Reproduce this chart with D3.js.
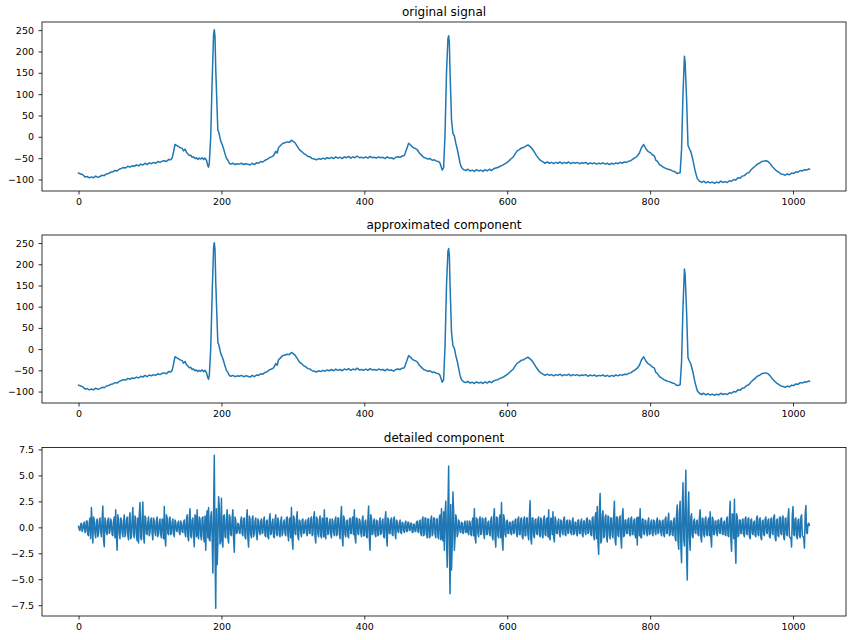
<!DOCTYPE html>
<html><head><meta charset="utf-8">
<script src="https://cdn.jsdelivr.net/npm/d3@7"></script>
<style>
body{margin:0;background:#fff}
svg{display:block}
text{font-family:"DejaVu Sans",sans-serif;fill:#000}
</style>
</head><body>
<svg id="c" width="856" height="640"></svg>
<script>
// ECG samples [index, value] (original signal)
const signalSamples = [
[0,-85],[3,-87],[6,-89],[9,-94],[12,-93],[15,-96],[18,-94],[21,-96],[24,-92],[27,-95],[30,-93],[33,-90],[36,-91],[39,-87],[42,-86],[45,-83],[48,-82],[51,-79],[54,-80],[57,-76],[60,-74],[63,-72],[66,-73],[69,-69],[72,-71],[75,-68],[78,-69],[81,-66],[84,-68],[87,-64],[90,-66],[93,-62],[96,-65],[99,-61],[102,-63],[105,-60],[108,-62],[111,-58],[114,-60],[117,-57],[120,-56],[123,-58],[126,-53],[129,-54],[131,-50],
[133,-35],[135,-18],[137,-20],[139,-22],[141,-24],[143,-26],[145,-27],[147,-33],[149,-29],[151,-36],[153,-40],[155,-44],[157,-43],[159,-48],[161,-47],[163,-51],[165,-49],[167,-53],[169,-50],[171,-52],[173,-49],[175,-53],[177,-50],[179,-55],[181,-68],[182,-71],[183,-62],
[185,0],[187,130],[189,240],[190,251],[191,235],[192,160],[194,60],[195,15],[196,12],[197,5],[199,-10],[201,-18],[203,-28],[205,-40],[207,-50],[209,-55],[211,-62],[213,-64],
[216,-62],[219,-65],[222,-63],[225,-64],[228,-62],[231,-65],[234,-63],[237,-64],[240,-66],[243,-62],[246,-65],[249,-61],[252,-62],[255,-58],[258,-59],[261,-55],[264,-53],[267,-49],[270,-47],[273,-44],[276,-34],[278,-38],[280,-25],[283,-20],[286,-15],[289,-14],[292,-12],[295,-13],[298,-8],[300,-10],[303,-14],[306,-22],[309,-30],[312,-34],[315,-39],[318,-42],[321,-46],[324,-47],[327,-51],[330,-52],[333,-54],[336,-51],[339,-53],[342,-50],[345,-52],[348,-49],[351,-51],[354,-48],[357,-51],[360,-47],[363,-50],[366,-48],[369,-51],[372,-47],[375,-49],[378,-46],[381,-50],[384,-47],[387,-49],[390,-45],[393,-49],[396,-48],[399,-50],[402,-47],[405,-50],[408,-46],[411,-49],[414,-48],[417,-50],[420,-47],[423,-49],[426,-48],[429,-51],[432,-47],[435,-50],[438,-49],[441,-52],[444,-48],[447,-47],[450,-48],[453,-45],[456,-44],
[459,-30],[462,-15],[465,-20],[468,-25],[471,-27],[474,-30],[477,-38],[480,-43],[483,-48],[486,-50],[489,-52],[492,-51],[495,-55],[498,-54],[501,-57],[504,-58],[506,-62],[509,-78],[511,-72],
[513,10],[515,150],[517,230],[518,237],[519,220],[520,150],[522,40],[524,8],[526,2],[528,-15],[530,-28],[532,-45],[534,-62],[536,-72],
[539,-77],[542,-79],[545,-76],[548,-80],[551,-78],[554,-81],[557,-77],[560,-80],[563,-78],[566,-81],[569,-77],[572,-80],[575,-76],[578,-79],[581,-75],[584,-73],[587,-72],[590,-69],[593,-67],[596,-64],[599,-61],[602,-57],[605,-52],[608,-48],[611,-40],[614,-33],[617,-30],[620,-26],[623,-25],[626,-22],[629,-19],[632,-23],[635,-28],[638,-36],[641,-44],[644,-51],[647,-56],[650,-59],[653,-62],[656,-59],[659,-62],[662,-60],[665,-63],[668,-60],[671,-62],[674,-59],[677,-63],[680,-60],[683,-62],[686,-59],[689,-63],[692,-60],[695,-62],[698,-60],[701,-63],[704,-61],[707,-62],[710,-60],[713,-64],[716,-61],[719,-63],[722,-61],[725,-64],[728,-62],[731,-63],[734,-61],[737,-64],[740,-62],[743,-65],[746,-62],[749,-64],[752,-61],[755,-63],[758,-60],[761,-62],[764,-59],[767,-60],[770,-57],[773,-56],[776,-52],[779,-49],[782,-45],[785,-38],[788,-25],[791,-18],[794,-28],[797,-34],[800,-37],[803,-42],[806,-45],[808,-55],[810,-57],[813,-65],[816,-68],[819,-72],[822,-74],[825,-76],[828,-77],[831,-80],[834,-81],[836,-84],[838,-86],[840,-85],[842,-84],
[844,-30],[846,100],[848,189],[849,175],[851,90],[853,-20],[855,-28],[857,-35],[860,-55],[863,-80],[866,-98],
[869,-104],[872,-107],[875,-104],[878,-108],[881,-105],[884,-108],[887,-106],[890,-109],[893,-106],[896,-108],[899,-104],[902,-107],[905,-105],[908,-107],[911,-103],[914,-104],[917,-100],[920,-101],[923,-96],[926,-97],[929,-92],[932,-91],[935,-86],[938,-84],[941,-78],[944,-73],[947,-69],[950,-64],[953,-62],[956,-58],[959,-57],[962,-56],[965,-58],[968,-63],[971,-70],[974,-75],[977,-80],[980,-83],[983,-87],[986,-88],[989,-90],[992,-87],[995,-89],[998,-85],[1001,-86],[1004,-82],[1007,-83],[1010,-79],[1013,-80],[1016,-77],[1019,-78],[1022,-75],[1023,-76]
];
// approximated component: visually identical to the original at this scale
const approxSamples = signalSamples;

// detailed component at even sample indices (0, 2, 4, ... 1022)
const detailEven = [
0.1,-0.3,0.4,-0.2,0.5,-0.4,0.6,-0.8,0.9,1.9,-1.5,0.7,-1.0,0.8,-0.6,0.9,
-0.9,2.05,-1.86,0.6,-0.7,0.9,-0.4,0.5,-0.8,1.0,1.7,-2.2,0.8,-1.1,0.7,-0.9,
1.2,-0.6,1.0,-1.2,1.4,-0.9,1.9,-1.0,0.8,-1.3,-1.5,2.4,-1.2,2.45,-1.5,0.9,
-0.7,1.0,-0.5,0.9,-1.2,0.6,-0.8,1.0,-0.6,0.8,-1.0,0.7,2.0,-1.8,0.9,-0.7,
1.0,-0.6,0.8,-0.9,0.5,-0.4,0.6,-0.7,0.4,-0.5,0.7,-0.9,1.2,-1.3,1.8,-1.0,
0.9,-1.86,1.0,1.7,-1.1,0.8,-1.2,1.0,-1.4,-2.2,1.6,1.9,-1.3,1.5,-4.4,6.95,
-7.8,-3.6,2.95,-1.6,2.8,-1.9,1.2,-1.0,1.7,-1.5,1.0,-0.8,1.7,-2.4,0.7,-0.5,
0.3,-0.6,1.0,-0.8,0.9,-1.1,1.7,-1.9,0.8,-1.0,1.1,-0.6,0.9,-1.2,0.6,-0.7,
0.8,-0.5,1.0,-0.9,0.7,-1.1,1.3,-0.6,0.8,-1.0,1.2,-0.8,0.6,-0.9,1.0,-0.5,
0.7,-0.8,1.0,-1.3,0.9,1.9,-2.1,0.8,-0.7,1.5,-1.2,0.6,-0.9,0.8,-0.5,0.7,
-0.8,0.9,-0.6,1.0,-0.7,1.5,-1.5,0.8,-0.9,1.1,-1.0,0.7,1.7,-1.1,0.9,-0.6,
0.8,-1.0,0.6,-0.8,1.0,-0.7,0.9,-1.1,2.0,-1.8,0.8,-0.9,0.7,-1.0,0.9,-0.6,
1.0,1.7,-1.5,0.8,-0.7,0.6,-0.9,1.1,-0.8,0.7,-1.0,2.05,-2.2,0.9,-0.6,0.8,
-0.9,0.6,-0.7,0.9,-0.5,0.8,-1.0,1.5,-1.8,0.7,-0.6,0.9,-0.8,1.0,-1.1,0.6,
-0.5,0.7,-0.6,0.4,-0.5,0.6,-0.4,0.5,-0.3,0.4,-0.5,0.3,-0.4,0.6,-0.5,0.7,
-0.8,1.0,-0.7,0.9,-1.0,0.8,-0.9,1.1,-0.6,0.9,-1.0,0.8,-1.1,1.2,1.8,-1.3,
-2.2,2.5,-3.85,5.9,-6.4,-4.1,3.4,-2.2,1.2,-0.9,0.7,-0.4,0.5,-0.6,0.4,-0.5,
0.6,-0.7,0.5,-0.8,0.9,1.8,-1.5,0.7,-0.9,1.0,-0.6,0.8,-1.1,0.9,-0.7,0.6,
-0.8,1.0,-1.2,1.8,-1.9,0.9,-1.0,1.2,2.4,-2.2,0.8,-0.9,0.7,-0.6,0.5,-0.7,
0.6,-0.5,0.8,-0.9,1.0,-0.7,0.9,-1.1,1.0,-0.8,0.9,-1.2,2.55,-1.6,0.9,-1.0,
0.8,-0.7,1.0,-0.9,0.7,-1.0,1.1,-0.8,0.9,1.7,-1.2,0.8,1.5,-1.4,0.7,-0.6,
0.8,-0.9,0.6,-0.7,1.0,-0.8,0.7,-0.5,0.6,-0.7,0.9,-0.6,0.5,-0.8,0.7,-0.6,
0.8,-0.9,0.6,-0.7,0.9,-0.5,0.6,-0.8,1.0,-1.2,1.4,2.0,-2.6,3.27,-1.3,1.6,
-0.9,1.2,-1.4,1.0,-1.1,0.9,-1.0,2.5,-1.7,1.0,-0.9,1.1,-2.0,1.8,-0.8,0.7,
-0.6,0.9,-0.8,1.0,-0.7,0.8,-1.0,-1.7,0.9,1.8,-1.0,0.8,-0.7,0.6,-0.8,0.9,
-0.6,0.7,-0.8,0.6,-0.7,0.9,-0.5,0.6,-0.8,0.7,-0.9,1.0,-0.6,1.35,-0.7,0.6,
-0.8,0.9,-1.3,2.15,-2.1,2.5,-3.4,4.3,-1.8,5.5,-5.06,3.4,-2.2,1.3,-1.0,0.8,
-0.6,0.7,-0.8,1.7,-1.4,0.8,-0.9,1.0,-0.8,0.9,1.5,-1.9,0.8,-0.7,0.6,-0.8,
0.7,-0.6,0.9,-0.7,0.6,-0.8,1.0,-0.9,2.5,-2.3,1.2,2.7,-3.46,1.0,-0.8,0.7,
-0.6,0.8,-0.9,1.0,-0.7,0.9,-1.1,0.8,-0.7,0.6,-0.9,1.1,-0.8,0.9,-1.2,0.7,
-0.8,1.0,-0.6,0.8,-1.0,0.9,-0.7,1.2,-1.3,0.8,-0.9,1.0,-0.7,1.1,-1.2,0.9,
-0.8,1.8,-1.0,-1.9,2.0,-0.8,0.9,-1.1,0.8,-1.0,1.2,-0.9,-2.0,2.1,-0.6,0.4
];
// detailed component at odd sample indices (1, 3, 5, ... 1023)
const detailOdd = [
-0.2,0.3,-0.4,0.3,-0.5,0.6,-0.7,0.5,-1.1,0.4,1.0,-0.6,0.5,-0.9,0.6,-0.4,
0.8,-1.2,0.9,-0.5,0.7,-0.6,0.8,-0.7,0.6,-1.0,-0.8,1.2,-0.6,0.9,-0.5,0.6,
-0.9,0.7,-0.8,0.9,-1.1,0.8,-0.6,1.1,-0.7,0.9,1.2,-1.0,0.8,-0.9,1.1,-0.6,
0.5,-0.8,0.7,-0.6,0.9,-0.5,0.7,-0.9,0.5,-0.7,0.8,-1.1,-1.0,1.2,-0.6,0.8,
-0.7,0.5,-0.6,0.7,-0.3,0.4,-0.5,0.6,-0.4,0.5,-0.6,0.8,-0.9,1.0,-0.8,0.7,
-0.8,1.2,-0.9,-0.7,1.0,-0.8,0.9,-0.9,1.1,0.8,-1.0,-1.2,1.0,-1.0,1.5,-2.0,
1.8,-1.5,2.0,-1.2,-1.4,1.1,-0.9,0.8,-1.0,1.2,-0.7,0.9,-1.1,1.0,-0.6,0.4,
-0.5,0.7,-0.6,0.8,-0.9,0.7,-1.0,1.1,-0.7,0.8,-0.9,0.6,-0.7,0.8,-0.5,0.6,
-0.6,0.7,-0.8,0.6,-0.9,0.8,-0.7,0.5,-0.9,0.7,-0.6,0.9,-0.7,0.6,-0.8,0.5,
-0.6,0.9,-0.7,0.8,-1.0,-1.2,1.1,-0.6,0.8,-0.9,0.7,-0.5,0.7,-0.6,0.5,-0.6,
0.7,-0.6,0.8,-0.8,0.9,-0.9,1.0,-0.6,0.7,-0.8,0.9,-0.9,-0.8,0.9,-0.7,0.5,
-0.7,0.8,-0.5,0.7,-0.8,0.9,-0.6,0.8,-1.0,1.1,-0.7,0.6,-0.8,0.7,-0.6,0.8,
-0.7,-1.0,0.9,-0.6,0.8,-0.5,0.7,-0.8,0.6,-0.9,0.8,-1.1,1.2,-0.7,0.6,-0.7,
0.7,-0.8,0.6,-0.7,0.6,-0.9,0.8,-1.0,0.9,-0.6,0.7,-0.7,0.8,-0.6,0.7,-0.4,
0.4,-0.5,0.5,-0.3,0.4,-0.4,0.5,-0.3,0.4,-0.5,0.3,-0.4,0.5,-0.4,0.6,-0.6,
0.7,-0.8,0.9,-0.7,0.8,-1.0,0.7,-0.8,0.9,-0.7,0.8,-0.9,1.0,-1.2,-1.0,1.5,
1.3,-1.2,1.6,-2.0,2.2,-1.8,1.5,-1.0,0.8,-0.6,0.5,-0.5,0.4,-0.5,0.6,-0.4,
-0.5,0.6,-0.7,0.6,-0.8,-1.0,0.9,-0.6,0.8,-0.7,0.9,-0.6,0.8,-0.7,0.5,-0.6,
0.7,-0.9,1.0,-1.1,1.0,-0.8,0.9,-1.0,-1.3,1.2,-0.7,0.6,-0.6,0.5,-0.6,0.5,
-0.6,0.7,-0.6,0.8,-0.7,0.8,-0.9,0.7,-0.8,0.9,-0.7,1.0,-1.1,0.9,-0.8,0.7,
-0.6,0.8,-0.7,0.9,-0.8,0.9,-0.7,0.8,-0.9,-1.0,0.9,-0.7,-0.9,1.0,-0.6,0.5,
-0.6,0.7,-0.5,0.8,-0.7,0.6,-0.6,0.7,-0.5,0.6,-0.7,0.5,-0.6,0.7,-0.6,0.5,
-0.7,0.6,-0.5,0.8,-0.6,0.7,-0.7,0.9,-0.8,1.0,-1.1,-1.4,1.6,-1.5,1.2,-1.0,
1.0,-0.9,1.1,-0.8,0.9,-0.8,1.1,-1.3,1.0,-0.8,0.9,-1.0,1.1,-0.9,0.7,-0.6,
0.7,-0.6,0.8,-0.7,0.6,-0.8,0.9,1.0,-0.8,-1.0,0.8,-0.6,0.7,-0.5,0.6,-0.7,
0.5,-0.6,0.7,-0.5,0.6,-0.6,0.7,-0.5,0.6,-0.7,0.8,-0.6,0.7,-0.8,0.6,-0.7,
0.7,-1.0,1.2,-1.3,1.5,-1.8,2.0,-1.2,2.2,-2.5,1.5,-1.0,1.0,-0.8,0.6,-0.5,
0.6,-0.7,0.9,-1.0,0.9,-0.7,0.8,-0.7,0.6,-0.8,-1.0,1.0,-0.7,0.6,-0.5,0.7,
-0.5,0.8,-0.6,0.5,-0.7,0.8,-0.8,0.9,-1.2,1.3,-1.1,-1.5,1.3,-0.9,0.7,-0.6,
0.7,-0.7,0.8,-0.6,0.8,-0.9,0.7,-0.6,0.5,-0.8,0.9,-0.7,0.8,-1.0,0.6,-0.7,
0.8,-0.5,0.7,-0.9,0.8,-0.6,1.0,-1.0,0.7,-0.8,0.9,-0.6,0.9,-1.0,0.8,-0.7,
1.0,-0.9,-1.0,1.2,-0.7,0.8,-0.9,0.7,-0.8,1.0,-0.8,-1.0,1.2,-0.5,0.3,0.2
];
const detailSamples = [];
detailEven.forEach((v,i)=>{
  detailSamples.push([2*i, v]);
  if (i < detailOdd.length) detailSamples.push([2*i+1, detailOdd[i]]);
});

const titles = ["original signal","approximated component","detailed component"];
const xTicks = [0,200,400,600,800,1000];
const signalTicks = [-100,-50,0,50,100,150,200,250];
const detailTicks = [-7.5,-5,-2.5,0,2.5,5,7.5];

const W=856, H=640;
const left=42, right=846;
const panelBox = [[22,191],[235,403],[447.5,616]];
const color="#1f77b4";

const svg=d3.select("#c");
svg.append("rect").attr("width",W).attr("height",H).attr("fill","#fff");

const xExt=d3.extent(signalSamples,d=>d[0]);
const xPad=(xExt[1]-xExt[0])*0.05;
const x=d3.scaleLinear().domain([xExt[0]-xPad,xExt[1]+xPad]).range([left,right]);

const panels=[
 {data:signalSamples, ticks:signalTicks, fmt:d3.format("d")},
 {data:approxSamples, ticks:signalTicks, fmt:d3.format("d")},
 {data:detailSamples, ticks:detailTicks, fmt:d3.format(".1f")}
];

panels.forEach((p,k)=>{
  const [top,bottom]=panelBox[k];
  const ext=d3.extent(p.data,d=>d[1]);
  const pad=(ext[1]-ext[0])*0.05;
  const y=d3.scaleLinear().domain([ext[0]-pad,ext[1]+pad]).range([bottom,top]);
  const g=svg.append("g");
  const cid="clip"+k;
  g.append("clipPath").attr("id",cid).append("rect")
    .attr("x",left).attr("y",top).attr("width",right-left).attr("height",bottom-top);
  g.append("path").datum(p.data)
    .attr("clip-path",`url(#${cid})`)
    .attr("fill","none").attr("stroke",color).attr("stroke-width",1.5)
    .attr("stroke-linejoin","round").attr("stroke-linecap","square")
    .attr("d",d3.line().x(d=>x(d[0])).y(d=>y(d[1])));

  const xa=g.append("g").attr("transform",`translate(0,${bottom})`)
    .call(d3.axisBottom(x).tickValues(xTicks).tickFormat(d3.format("d")).tickSize(3.5).tickPadding(3.5).tickSizeOuter(0));
  const ya=g.append("g").attr("transform",`translate(${left},0)`)
    .call(d3.axisLeft(y).tickValues(p.ticks).tickFormat(p.fmt).tickSize(3.5).tickPadding(4.5).tickSizeOuter(0));
  [xa,ya].forEach(a=>{
    a.select(".domain").remove();
    a.selectAll("line").attr("stroke","#000").attr("stroke-width",0.8);
    a.selectAll("text").attr("font-size","9.5px").attr("font-family","DejaVu Sans").attr("fill","#000");
  });
  g.append("rect").attr("x",left).attr("y",top).attr("width",right-left).attr("height",bottom-top)
    .attr("fill","none").attr("stroke","#000").attr("stroke-width",0.8);
  g.append("text").attr("x",(left+right)/2).attr("y",top-6)
    .attr("text-anchor","middle").attr("font-size","12px").text(titles[k]);
});
</script>
</body></html>
